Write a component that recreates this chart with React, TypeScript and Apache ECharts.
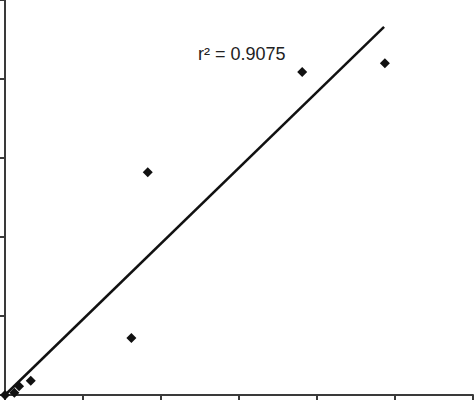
import * as echarts from "echarts";
import { useEffect, useRef } from "react";

// scatter points (x, y in axis units)
const pointsX = [0.0, 0.12, 0.18, 0.33, 1.62, 1.83, 3.81, 4.87];
const pointsY = [0.0, 0.03, 0.11, 0.18, 0.72, 2.82, 4.09, 4.2];

// fitted line end points
const fitX = [0, 4.86];
const fitY = [0, 4.66];

const rSquared = "0.9075";

export default function App() {
  const chartRef = useRef<HTMLDivElement | null>(null);

  useEffect(() => {
    const el = chartRef.current;
    if (!el) return;
    document.body.style.margin = "0";

    const chart = echarts.init(el, undefined, { renderer: "svg" });

    const axisStyle = {
      axisLine: { show: true, onZero: false, lineStyle: { color: "#3a3a3a", width: 2 } },
      axisTick: { show: true, inside: false, length: 5, lineStyle: { color: "#3a3a3a", width: 2 } },
      axisLabel: { show: false },
      splitLine: { show: false },
    };

    chart.setOption({
      animation: false,
      grid: { left: 5, right: 1, top: 0, bottom: 5, containLabel: false },
      xAxis: { type: "value", min: 0, max: 6, interval: 1, ...axisStyle },
      yAxis: { type: "value", min: 0, max: 5, interval: 1, ...axisStyle },
      series: [
        {
          type: "line",
          data: fitX.map((x, i) => [x, fitY[i]]),
          symbol: "none",
          lineStyle: { color: "#111", width: 2.5 },
          z: 2,
        },
        {
          type: "scatter",
          data: pointsX.map((x, i) => [x, pointsY[i]]),
          symbol: "diamond",
          symbolSize: 10,
          itemStyle: { color: "#111", opacity: 1 },
          z: 3,
        },
      ],
      graphic: [
        {
          type: "text",
          left: 198,
          top: 45,
          style: {
            text: `r² = ${rSquared}`,
            fontSize: 18,
            fontFamily: "Liberation Sans, Arial, sans-serif",
            fill: "#222",
          },
        },
      ],
    });

    return () => {
      if (!chart.isDisposed()) chart.dispose();
    };
  }, []);

  return <div ref={chartRef} style={{ width: 474, height: 400 }} />;
}
